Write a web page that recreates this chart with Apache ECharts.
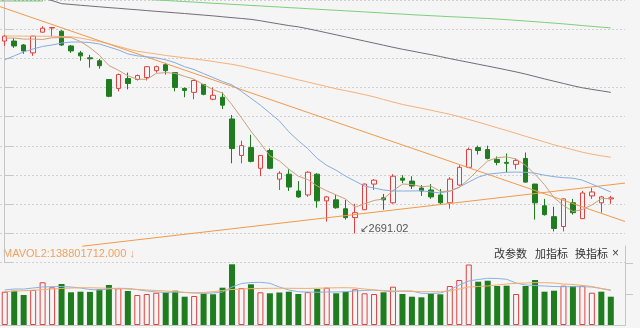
<!DOCTYPE html>
<html>
<head>
<meta charset="utf-8">
<script src="https://cdn.jsdelivr.net/npm/echarts@6/dist/echarts.min.js"></script>
<style>
  html, body { margin: 0; padding: 0; background: #f5f5f5; }
  #kline { width: 640px; height: 328px; }
</style>
</head>
<body>
<div id="kline"></div>
<script>
// 交易日 2018-05-15 ~ 2018-08-14
const dates = [
  '05-15','05-16','05-17','05-18','05-21','05-22','05-23','05-24','05-25','05-28','05-29','05-30','05-31',
  '06-01','06-04','06-05','06-06','06-07','06-08','06-11','06-12','06-13','06-14','06-15','06-19','06-20',
  '06-21','06-22','06-25','06-26','06-27','06-28','06-29',
  '07-02','07-03','07-04','07-05','07-06','07-09','07-10','07-11','07-12','07-13','07-16','07-17','07-18',
  '07-19','07-20','07-23','07-24','07-25','07-26','07-27','07-30','07-31',
  '08-01','08-02','08-03','08-06','08-07','08-08','08-09','08-10','08-13','08-14'
];

// [open, close, low, high]
const candles = [
  [3189.0, 3201.8, 3176.3, 3204.4], [3189.0, 3176.3, 3171.2, 3196.7], [3178.8, 3163.5, 3155.8, 3181.4],
  [3158.4, 3201.8, 3150.7, 3202.5], [3212.0, 3222.3, 3211.0, 3227.4], [3222.8, 3224.0, 3201.8, 3224.8],
  [3214.6, 3178.8, 3176.3, 3217.1], [3176.3, 3163.5, 3158.4, 3178.8], [3158.4, 3150.7, 3138.0, 3163.5],
  [3145.6, 3143.1, 3120.1, 3153.3], [3138.0, 3125.2, 3117.5, 3143.1], [3089.4, 3046.0, 3043.5, 3090.5],
  [3066.4, 3102.2, 3058.8, 3104.8], [3092.0, 3079.2, 3063.9, 3107.3], [3089.4, 3099.7, 3086.9, 3102.2],
  [3094.5, 3122.6, 3086.9, 3123.5], [3112.4, 3122.6, 3107.3, 3125.2], [3127.7, 3112.4, 3102.2, 3132.9],
  [3107.3, 3069.0, 3058.8, 3108.0], [3066.4, 3061.3, 3043.5, 3069.0], [3056.2, 3086.9, 3038.4, 3089.4],
  [3076.7, 3051.1, 3048.6, 3077.5], [3038.4, 3048.6, 3035.8, 3069.0], [3043.5, 3023.0, 3012.8, 3056.2],
  [2987.3, 2910.7, 2872.4, 2997.5], [2892.8, 2918.3, 2872.4, 2931.1], [2913.2, 2877.5, 2874.9, 2946.4],
  [2859.6, 2892.8, 2839.1, 2894.0], [2905.6, 2859.6, 2857.0, 2910.7], [2831.5, 2846.8, 2803.4, 2851.9],
  [2844.3, 2811.1, 2800.8, 2857.0], [2800.8, 2785.5, 2783.0, 2826.4], [2790.6, 2849.4, 2785.5, 2851.9],
  [2844.3, 2775.3, 2757.4, 2846.8], [2775.3, 2785.5, 2721.7, 2788.1], [2777.9, 2757.4, 2754.9, 2790.6],
  [2754.9, 2731.9, 2726.8, 2777.9], [2731.9, 2744.7, 2691.02, 2767.6], [2752.3, 2818.7, 2751.5, 2820.0],
  [2818.7, 2828.9, 2803.4, 2831.5], [2783.0, 2777.9, 2752.3, 2793.2], [2770.2, 2839.1, 2768.0, 2844.3],
  [2834.0, 2828.9, 2821.3, 2841.7], [2826.4, 2813.6, 2805.9, 2839.1], [2808.5, 2800.8, 2788.1, 2816.2],
  [2803.4, 2785.5, 2780.4, 2818.7], [2790.6, 2770.2, 2767.6, 2805.9], [2770.2, 2831.5, 2754.9, 2836.6],
  [2816.2, 2862.1, 2815.0, 2867.3], [2862.1, 2908.1, 2861.0, 2913.2], [2913.2, 2905.6, 2895.4, 2918.3],
  [2908.1, 2885.1, 2882.6, 2918.3], [2882.6, 2874.9, 2867.3, 2890.2], [2874.9, 2872.4, 2849.4, 2897.9],
  [2869.8, 2880.0, 2857.0, 2885.1], [2885.1, 2823.8, 2822.5, 2900.4], [2818.7, 2770.2, 2726.8, 2819.5],
  [2762.5, 2739.6, 2737.0, 2780.4], [2734.4, 2703.8, 2696.1, 2760.0], [2708.9, 2780.4, 2696.1, 2781.5],
  [2770.2, 2744.7, 2739.6, 2780.4], [2729.3, 2795.7, 2728.0, 2800.8], [2788.1, 2798.3, 2780.4, 2808.5],
  [2770.2, 2785.5, 2744.7, 2788.1], [2780.4, 2783.0, 2767.6, 2788.1]
];

const ma5 = [3196.7, 3196.7, 3194.1, 3194.1, 3193.1, 3197.5, 3198.0, 3198.0, 3187.8, 3171.9,
  3152.3, 3125.7, 3113.4, 3099.1, 3090.4, 3089.9, 3105.3, 3107.3, 3105.3, 3097.6,
  3090.4, 3076.1, 3063.4, 3054.2, 3024.0, 2990.3, 2955.6, 2924.4, 2891.7, 2879.0,
  2857.5, 2839.1, 2830.4, 2813.6, 2801.3, 2790.6, 2779.9, 2758.9, 2767.6, 2776.3,
  2780.4, 2801.8, 2818.7, 2817.7, 2812.1, 2813.6, 2799.8, 2800.3, 2810.0, 2831.5,
  2855.5, 2878.5, 2887.1, 2889.2, 2883.6, 2867.2, 2844.2, 2817.2, 2783.5, 2763.5,
  2747.7, 2752.8, 2764.6, 2780.9, 2781.4];
const ma10 = [3140.5, 3150.7, 3160.9, 3168.6, 3175.0, 3178.8, 3183.9, 3186.5, 3186.5, 3185.2,
  3181.4, 3173.7, 3166.0, 3155.8, 3150.7, 3148.2, 3145.6, 3140.5, 3132.8, 3122.6,
  3115.0, 3104.7, 3094.5, 3084.3, 3075.4, 3058.8, 3040.9, 3023.0, 3002.6, 2982.2,
  2954.1, 2931.1, 2910.6, 2885.1, 2867.2, 2854.5, 2839.1, 2826.4, 2813.6, 2808.5,
  2803.4, 2800.8, 2800.8, 2800.8, 2801.5, 2798.3, 2795.7, 2800.8, 2811.0, 2823.8,
  2836.6, 2844.2, 2846.8, 2849.3, 2849.8, 2849.3, 2846.8, 2841.7, 2837.9, 2835.3,
  2834.0, 2828.9, 2818.7, 2808.5, 2798.3];
const ma30 = [3202.3, 3202.0, 3201.8, 3201.6, 3201.5, 3201.4, 3201.0, 3200.3, 3196.7, 3192.1,
  3187.8, 3181.9, 3175.2, 3168.6, 3162.7, 3159.1, 3155.6, 3151.7, 3148.7, 3145.6,
  3142.8, 3139.7, 3136.2, 3132.3, 3128.8, 3123.9, 3118.0, 3112.2, 3106.5, 3100.7,
  3094.8, 3088.7, 3083.0, 3077.2, 3071.3, 3065.4, 3060.6, 3055.5, 3050.3, 3044.5,
  3037.8, 3031.2, 3024.8, 3020.0, 3015.1, 3010.0, 3004.6, 2999.5, 2993.1, 2986.0,
  2979.1, 2971.9, 2964.5, 2957.4, 2950.0, 2942.3, 2935.2, 2927.8, 2920.3, 2914.0,
  2907.6, 2901.2, 2896.1, 2892.0, 2888.2];
const ma60 = [3316.7, 3312.9, 3309.1, 3305.2, 3300.1, 3293.8, 3285.8, 3283.8, 3281.7, 3279.7,
  3277.7, 3275.6, 3273.8, 3271.8, 3270.0, 3267.9, 3265.9, 3264.1, 3262.1, 3260.3,
  3258.2, 3256.2, 3254.2, 3251.9, 3249.6, 3247.5, 3245.2, 3241.6, 3237.3, 3233.2,
  3229.1, 3225.8, 3221.0, 3215.8, 3210.5, 3205.1, 3199.8, 3194.4, 3189.0, 3183.7,
  3178.3, 3172.9, 3167.8, 3163.2, 3158.4, 3153.8, 3148.9, 3143.6, 3138.7, 3133.9,
  3129.0, 3124.2, 3119.3, 3114.2, 3109.1, 3103.5, 3097.3, 3091.0, 3085.1, 3079.2,
  3073.3, 3068.0, 3063.9, 3060.1, 3056.2];
const ma120 = [3318.3, 3316.7, 3315.5, 3313.9, 3312.6, 3311.1, 3309.6, 3308.3, 3306.8, 3305.5,
  3304.0, 3302.7, 3301.2, 3299.9, 3298.3, 3296.8, 3295.5, 3294.0, 3292.7, 3291.2,
  3289.9, 3288.4, 3286.8, 3285.6, 3284.0, 3282.8, 3281.2, 3280.0, 3278.4, 3277.1,
  3275.6, 3274.3, 3272.8, 3271.5, 3270.0, 3268.7, 3267.2, 3265.9, 3264.4, 3263.1,
  3261.6, 3260.0, 3258.8, 3257.2, 3255.9, 3254.7, 3253.4, 3252.1, 3251.1, 3249.8,
  3248.5, 3247.5, 3246.0, 3244.4, 3242.7, 3240.9, 3239.1, 3237.3, 3235.5, 3233.5,
  3231.4, 3229.1, 3227.1, 3225.0, 3223.0];

// 画线: [位置(K线序号), 价格]
const trendDown = [[-0.5, 3278.2], [65.5, 2721.9]];
const trendUp = [[8.18, 2657.8], [65.5, 2821.3]];

// 成交量(百万手)
const vol = [134.3, 138.3, 121.0, 141.1, 172.2, 152.0, 165.3, 131.8, 134.3, 133.5,
  143.9, 161.3, 148.0, 137.1, 121.0, 125.0, 130.2, 131.8, 138.3, 114.1,
  116.9, 126.2, 123.8, 150.4, 244.7, 149.0, 164.1, 131.8, 127.8, 131.0,
  134.3, 125.0, 132.5, 145.2, 150.4, 127.8, 134.3, 143.9, 127.8, 125.0,
  131.8, 154.4, 125.0, 114.1, 111.7, 127.8, 123.8, 157.2, 181.4, 243.9,
  174.6, 178.6, 157.2, 158.5, 125.0, 157.2, 181.4, 134.3, 138.3, 158.5,
  157.2, 158.5, 130.2, 134.3, 114.1];
const volUp = [1,0,0,1,1,1,0,0,0,0, 0,0,1,0,1,1,1,0,0,0, 1,0,0,0,0,1,0,1,0,0,
  0,0,1,0,1,0,0,1,1,1, 0,1,0,0,0,0,0,1,1,1, 0,0,0,0,1,0,0,0,0,1, 0,1,1,0,0];
const maVol1 = [141.1, 145.2, 144.8, 149.2, 153.2, 154.4, 155.2, 153.2, 149.2, 143.1,
  141.1, 145.2, 148.0, 147.2, 143.1, 137.1, 133.1, 131.0, 133.1, 131.0,
  129.0, 127.8, 129.0, 133.1, 153.2, 167.3, 171.4, 172.2, 168.1, 153.2,
  141.1, 134.3, 133.1, 131.8, 133.1, 133.1, 134.3, 137.1, 139.1, 141.1,
  137.1, 134.3, 137.1, 137.1, 127.8, 127.0, 129.0, 141.1, 161.3, 177.4,
  183.5, 188.3, 187.5, 184.3, 169.3, 161.3, 159.3, 157.2, 155.2, 154.4,
  154.4, 154.4, 153.2, 147.2, 141.1];
const maVol2 = [134.3, 136.3, 138.3, 140.3, 142.3, 145.2, 147.2, 149.2, 150.0, 150.0,
  149.2, 148.0, 147.2, 145.2, 143.1, 141.1, 139.1, 137.1, 134.3, 131.8,
  130.2, 131.0, 134.0, 139.1, 143.1, 145.2, 146.4, 147.2, 148.0, 148.0,
  148.0, 147.6, 147.4, 148.4, 149.2, 150.0, 150.4, 149.2, 145.2, 141.1,
  139.1, 137.1, 135.9, 135.1, 134.3, 134.3, 134.3, 137.1, 145.2, 153.2,
  155.2, 157.2, 161.3, 165.3, 168.1, 169.3, 170.6, 170.6, 169.3, 165.3,
  163.3, 159.3, 155.2, 147.0, 138.801712];

const UP = '#e0403f';
const DOWN = '#1f7d1f';
const BG = '#f5f5f5';
const FONT = '"Liberation Sans", Arial, sans-serif';
const CJK = '"Noto Sans CJK SC", sans-serif';

const cats = dates.concat(['']);   // 右侧留一个空位
let lowIdx = 0;
candles.forEach((c, i) => { if (c[2] < candles[lowIdx][2]) lowIdx = i; });

function maLine(data, color) {
  return {
    type: 'line', xAxisIndex: 0, yAxisIndex: 1, data: data,
    symbol: 'none', silent: true,
    lineStyle: { width: 1, color: color }
  };
}
function trendLine(data) {
  return {
    type: 'line', xAxisIndex: 2, yAxisIndex: 1, data: data,
    symbol: 'none', silent: true,
    lineStyle: { width: 1, color: '#f29a48' }
  };
}

const chart = echarts.init(document.getElementById('kline'));
chart.setOption({
  animation: false,
  backgroundColor: BG,
  grid: [
    { left: -2.5, right: 15, top: -3.6, height: 266.2 },
    { left: -2.5, right: 15, top: 246, bottom: 3 }
  ],
  xAxis: [
    { type: 'category', gridIndex: 0, data: cats, show: false },
    {
      type: 'category', gridIndex: 1, data: cats, position: 'top',
      axisLine: { lineStyle: { color: '#c6c6c6' } },
      axisTick: { show: false }, axisLabel: { show: false }
    },
    { type: 'value', gridIndex: 0, min: -0.5, max: 65.5, show: false }
  ],
  yAxis: [
    {
      // 网格线 (等分)
      type: 'value', gridIndex: 0, min: 0, max: 9, interval: 1, position: 'right',
      axisLine: { show: true, lineStyle: { color: '#c6c6c6' } },
      axisTick: { show: true, length: 8, lineStyle: { color: '#c6c6c6' } },
      axisLabel: { show: false },
      splitLine: { show: true, lineStyle: { color: '#d0d0d0', type: [2, 2] } }
    },
    { type: 'value', gridIndex: 0, min: 2615.42, max: 3295.3, show: false, scale: true },
    {
      type: 'value', gridIndex: 1, min: 0, max: 318.5, position: 'right',
      axisLine: { show: true, lineStyle: { color: '#c6c6c6' } },
      axisTick: { show: true, length: 8, customValues: [125, 250], lineStyle: { color: '#c6c6c6' } },
      axisLabel: { show: false },
      splitLine: { show: false }
    }
  ],
  graphic: [
    { type: 'rect', left: 0, top: 0, shape: { width: 43, height: 1.5 }, style: { fill: '#7cc87c' } },
    {
      type: 'text', left: 3, top: 248,
      style: { text: 'MAVOL2:' + (maVol2[maVol2.length - 1] * 1e6).toFixed(3) + ' ↓', fill: '#f0a25c', font: '11px ' + FONT }
    },
    { type: 'text', left: 494, top: 248, style: { text: '改参数', fill: '#333', font: '11px ' + CJK } },
    { type: 'text', left: 535, top: 248, style: { text: '加指标', fill: '#333', font: '11px ' + CJK } },
    { type: 'text', left: 575, top: 248, style: { text: '换指标', fill: '#333', font: '11px ' + CJK } },
    { type: 'text', left: 612, top: 248, style: { text: '×', fill: '#444', font: '12px ' + FONT } }
  ],
  series: [
    {
      type: 'candlestick', xAxisIndex: 0, yAxisIndex: 1, data: candles,
      barWidth: 5, silent: true,
      itemStyle: { color: BG, color0: DOWN, borderColor: UP, borderColor0: DOWN, borderWidth: 1 },
      markPoint: {
        symbol: 'circle', symbolSize: 1, silent: true,
        itemStyle: { color: 'transparent' },
        data: [{ coord: [lowIdx, candles[lowIdx][2]], value: candles[lowIdx][2] }],
        label: {
          show: true, position: 'right', distance: 4, offset: [0, -4],
          formatter: p => '↙' + p.value.toFixed(2),
          color: '#555', fontSize: 11, fontFamily: FONT
        }
      }
    },
    maLine(ma120, '#7ccf7c'),
    maLine(ma60, '#6e6e76'),
    maLine(ma30, '#f6b07a'),
    trendLine(trendDown),
    trendLine(trendUp),
    maLine(ma10, '#86ace0'),
    maLine(ma5, '#c9a27a'),
    {
      type: 'bar', xAxisIndex: 1, yAxisIndex: 2, barWidth: 6, silent: true,
      data: vol.map((v, i) => ({
        value: v,
        itemStyle: volUp[i]
          ? { color: BG, borderColor: UP, borderWidth: 1 }
          : { color: DOWN }
      }))
    },
    {
      type: 'line', xAxisIndex: 1, yAxisIndex: 2, data: maVol1, symbol: 'none', silent: true,
      lineStyle: { width: 1, color: '#8ab2e6' }
    },
    {
      type: 'line', xAxisIndex: 1, yAxisIndex: 2, data: maVol2, symbol: 'none', silent: true,
      lineStyle: { width: 1, color: '#f3ad6c' }
    }
  ]
});
</script>
</body>
</html>
